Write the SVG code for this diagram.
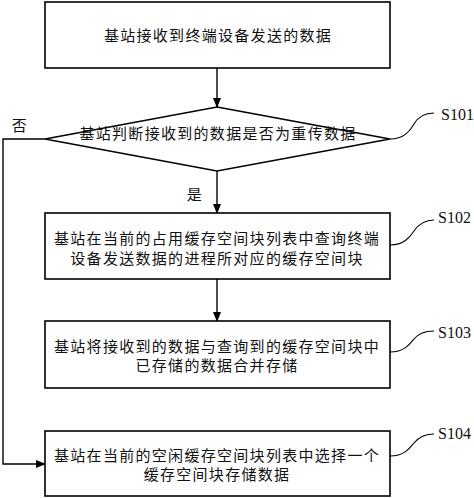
<svg xmlns="http://www.w3.org/2000/svg" width="474" height="498" viewBox="0 0 474 498">
<defs>
<marker id="ah" markerWidth="10" markerHeight="10" refX="9" refY="5" orient="auto" markerUnits="userSpaceOnUse">
<path d="M0,1 L10,5 L0,9 Z" fill="#000"/>
</marker>
<style>
.box{fill:#fff;stroke:#000;stroke-width:1.6}
.t{font-family:"Noto Sans CJK SC","Noto Sans CJK JP",sans-serif;font-size:15px;letter-spacing:1.3px;text-anchor:middle;dominant-baseline:central;fill:#111}
.lab{font-family:"Liberation Serif",serif;font-size:16px;fill:#111}
.c{fill:none;stroke:#000;stroke-width:1.4}
.lead{fill:none;stroke:#000;stroke-width:1.1}
</style>
</defs>
<rect width="474" height="498" fill="#fff"/>
<g id="connectors">
<line class="c" x1="217" y1="68" x2="217" y2="107" marker-end="url(#ah)"/>
<line class="c" x1="217" y1="171" x2="217" y2="213" marker-end="url(#ah)"/>
<line class="c" x1="217" y1="279" x2="217" y2="321" marker-end="url(#ah)"/>
<polyline class="c" points="45,139 3,139 3,464 45,464" marker-end="url(#ah)"/>
<text class="t" x="20" y="124">否</text>
<text class="t" x="195" y="193">是</text>
<path class="lead" d="M390,139 C404,139 410,131 414,124 C418,117 424,113 434,113"/>
<path class="lead" d="M390,245 C404,245 410,237 414,231 C418,225 424,220 434,220"/>
<path class="lead" d="M390,352 C404,352 410,344 414,339 C418,334 424,331 434,331"/>
<path class="lead" d="M390,456 C404,456 410,448 414,443 C418,438 424,434 434,434"/>
</g>
<g id="n0">
<rect class="box" x="45" y="2" width="345" height="66"/>
<text class="t" x="218" y="34">基站接收到终端设备发送的数据</text>
</g>
<g id="S101">
<polygon class="box" points="217,107 390,139 217,171 45,139"/>
<text class="t" x="218" y="132">基站判断接收到的数据是否为重传数据</text>
<text class="lab" x="441" y="120">S101</text>
</g>
<g id="S102">
<rect class="box" x="45" y="213" width="345" height="66"/>
<text class="t" x="217" y="237">基站在当前的占用缓存空间块列表中查询终端</text>
<text class="t" x="217" y="257">设备发送数据的进程所对应的缓存空间块</text>
<text class="lab" x="438" y="223">S102</text>
</g>
<g id="S103">
<rect class="box" x="45" y="321" width="345" height="67"/>
<text class="t" x="217" y="345">基站将接收到的数据与查询到的缓存空间块中</text>
<text class="t" x="217" y="364">已存储的数据合并存储</text>
<text class="lab" x="438" y="338">S103</text>
</g>
<g id="S104">
<rect class="box" x="45" y="431" width="345" height="65"/>
<text class="t" x="217" y="454">基站在当前的空闲缓存空间块列表中选择一个</text>
<text class="t" x="217" y="473">缓存空间块存储数据</text>
<text class="lab" x="438" y="439">S104</text>
</g>
</svg>
